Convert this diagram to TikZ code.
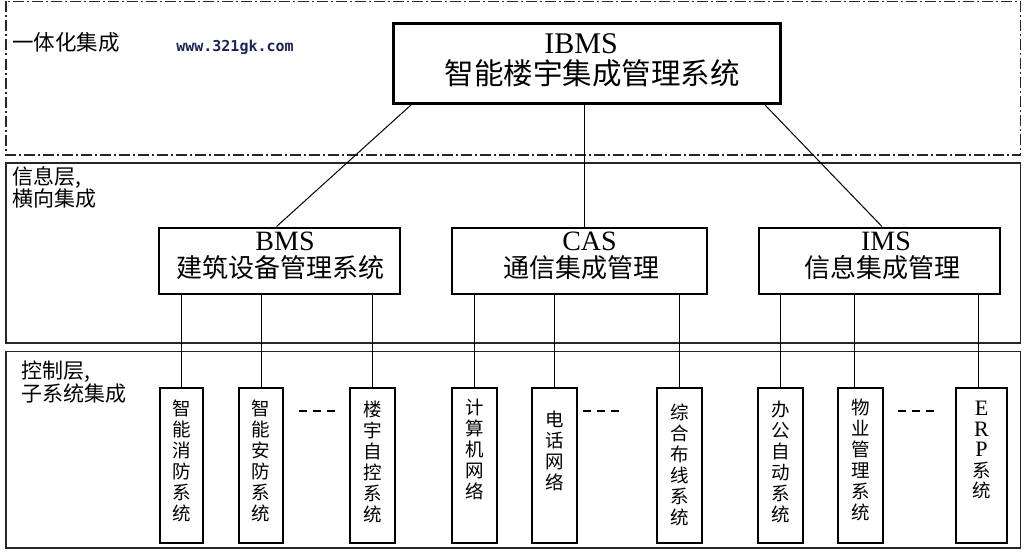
\documentclass[tikz,border=0pt]{standalone}
\usepackage{fontspec}
\setmainfont{Liberation Serif}
\newfontfamily\cjk{Noto Sans CJK SC}
\newfontfamily\wwwfont{DejaVu Sans Mono}
\usetikzlibrary{calc}
\definecolor{navy}{HTML}{1A2456}
\begin{document}
\begin{tikzpicture}[x=1pt,y=-1pt,
  layerbox/.style={draw=black!85, line width=1.3pt},
  dashdotbox/.style={draw=black!85, line width=1.3pt, dash pattern=on 11pt off 3pt on 2pt off 3pt},
  bigbox/.style={draw, line width=2.9pt, inner sep=0pt, minimum height=66pt},
  topbox/.style={draw, line width=3pt, inner sep=0pt, minimum width=387pt, minimum height=79pt},
  sysbox/.style={draw, line width=2.8pt, inner sep=0pt, minimum width=45pt, minimum height=155pt},
  latin/.style={inner sep=0pt, font=\fontsize{28}{28}\selectfont},
  cjktext/.style={inner sep=0pt, font=\cjk\fontsize{26}{26}\selectfont},
  vtext/.style={inner sep=0pt, anchor=north, align=center, font=\cjk\fontsize{18.5}{21}\selectfont},
  layerlabel/.style={inner sep=0pt, align=left, font=\cjk\fontsize{21}{21}\selectfont},
  conn/.style={draw, line width=1pt},
  ellip/.style={draw, line width=1.2pt, dash pattern=on 8pt off 6pt}]
\useasboundingbox (0,0) rectangle (1024,551);

% layers
\draw[dashdotbox] (6,1.5) rectangle (1020.5,155);
\draw[layerbox] (6,163) rectangle (1020.5,343);
\draw[layerbox] (6,351.5) rectangle (1020.5,548);

\node[layerlabel, anchor=west, font=\cjk\fontsize{21.5}{21}\selectfont] (l1) at (12,42) {一体化集成};
\node[layerlabel, anchor=north west] (l2) at (12,166) {信息层,\\横向集成};
\node[layerlabel, anchor=north west, font=\cjk\fontsize{21}{18}\selectfont] (l3) at (21,361) {控制层,\\子系统集成};

\node[inner sep=0pt, text=navy, font=\wwwfont\bfseries\fontsize{15}{15}\selectfont] (www) at (235,47) {www.321gk.com};

% top box
\node[topbox] (ibms) at (586.5,63.5) {};
\node[latin, font=\fontsize{30}{30}\selectfont] (ibmsl) at (581,43.5) {IBMS};
\node[cjktext, font=\cjk\fontsize{29.5}{29.5}\selectfont] (ibmsc) at (592,73) {智能楼宇集成管理系统};

% middle boxes
\node[bigbox, minimum width=241pt] (bms) at (279.5,261) {};
\node[latin] (bmsl) at (285,241.5) {BMS};
\node[cjktext] (bmsc) at (280.5,268) {建筑设备管理系统};

\node[bigbox, minimum width=255pt] (cas) at (579.5,261) {};
\node[latin] (casl) at (589.5,241.5) {CAS};
\node[cjktext] (casc) at (581,268) {通信集成管理};

\node[bigbox, minimum width=241pt] (ims) at (879.5,261) {};
\node[latin] (imsl) at (886,241.5) {IMS};
\node[cjktext] (imsc) at (882.5,268) {信息集成管理};

% connectors from top
\draw[conn] ($(ibms.south west)+(20,0)$) -- ($(bms.north west)+(119,0)$);
\draw[conn] ($(ibms.south)+(-2.5,0)$) -- ($(cas.north)+(4.5,0)$);
\draw[conn] ($(ibms.south east)+(-17,0)$) -- ($(ims.north)+(2.5,0)$);

% subsystem boxes
\node[sysbox, minimum width=43pt] (s1) at (181.5,465.5) {};
\node[vtext] (t1) at (181.5,400) {智\\能\\消\\防\\系\\统};
\node[sysbox, minimum width=44pt] (s2) at (261,465.5) {};
\node[vtext] (t2) at (261,400) {智\\能\\安\\防\\系\\统};
\node[sysbox] (s3) at (372.5,465.5) {};
\node[vtext] (t3) at (372.5,401) {楼\\宇\\自\\控\\系\\统};

\node[sysbox] (s4) at (474.5,465.5) {};
\node[vtext] (t4) at (474.5,399) {计\\算\\机\\网\\络};
\node[sysbox] (s5) at (554.5,465.5) {};
\node[vtext] (t5) at (554.5,411) {电\\话\\网\\络};
\node[sysbox] (s6) at (679.5,465.5) {};
\node[vtext] (t6) at (679.5,404) {综\\合\\布\\线\\系\\统};

\node[sysbox] (s7) at (780.5,465.5) {};
\node[vtext] (t7) at (780.5,401) {办\\公\\自\\动\\系\\统};
\node[sysbox] (s8) at (860.5,465.5) {};
\node[vtext] (t8) at (860.5,399) {物\\业\\管\\理\\系\\统};
\node[sysbox, minimum width=51pt] (s9) at (981.5,465.5) {};
\node[vtext, font=\fontsize{22}{20.5}\selectfont] (t9) at (981.5,401) {E\\R\\P\\{\cjk\fontsize{18.5}{20}\selectfont 系}\\{\cjk\fontsize{18.5}{20}\selectfont 统}};

% connectors down
\draw[conn] (s1.north |- bms.south) -- (s1.north);
\draw[conn] (s2.north |- bms.south) -- (s2.north);
\draw[conn] (s3.north |- bms.south) -- (s3.north);
\draw[conn] (s4.north |- cas.south) -- (s4.north);
\draw[conn] (s5.north |- cas.south) -- (s5.north);
\draw[conn] (s6.north |- cas.south) -- (s6.north);
\draw[conn] (s7.north |- ims.south) -- (s7.north);
\coordinate (s8a) at ($(s8.north)+(-6,0)$);
\coordinate (s9a) at ($(s9.north)+(-3.5,0)$);
\draw[conn] (s8a |- ims.south) -- (s8a);
\draw[conn] (s9a |- ims.south) -- (s9a);

% ellipses
\draw[ellip] (299,411) -- (335,411);
\draw[ellip] (583,411) -- (619,411);
\draw[ellip] (898,411) -- (934,411);
\end{tikzpicture}
\end{document}
